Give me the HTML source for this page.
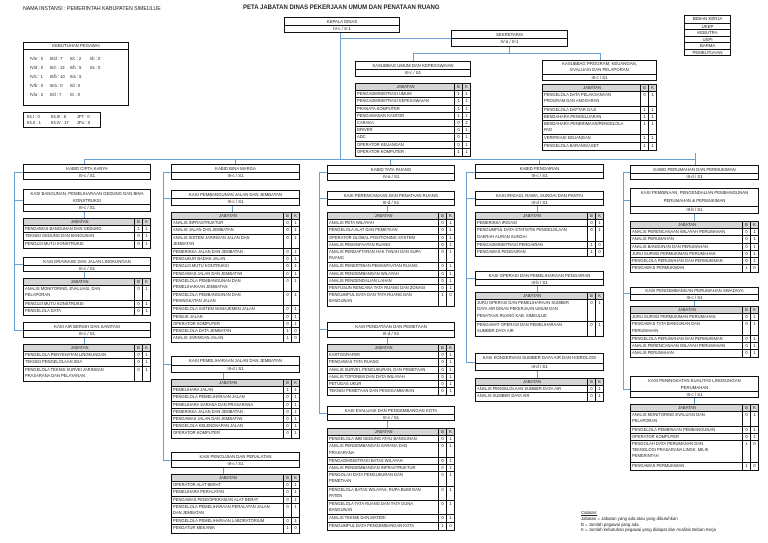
<!DOCTYPE html>
<html><head><meta charset="utf-8">
<style>
*{margin:0;padding:0;box-sizing:border-box}
body{width:768px;height:543px;background:#fff;position:relative;overflow:hidden;font-family:"Liberation Sans",sans-serif;color:#222}
.b{position:absolute;border:1.3px solid #111;background:#fff;font-size:4.3px;text-align:center;line-height:6px}
.b div{border-top:1px solid #111;height:7px;line-height:6px}
.b p{height:7px;line-height:7px;white-space:nowrap;overflow:hidden}
.t{position:absolute;border:1.3px solid #111;background:#fff;font-size:4.1px}
.r{display:flex;height:7.2px;border-bottom:1px solid #111;line-height:6.2px}
.r:last-child{border-bottom:0}
.r.d{height:14.4px}
.r.e{height:21.6px}
.r span{flex:1;padding-left:1px;white-space:nowrap;overflow:hidden}
.r i{font-style:normal;width:8px;border-left:1px solid #111;text-align:center}
.r.g{background:#d6d6d6}
.r.g span{text-align:center}
.h{position:absolute;height:1px;background:#6a9fd4}
.v{position:absolute;width:1px;background:#6a9fd4}
.s{position:absolute;font-size:4.5px;white-space:nowrap}
</style></head><body>
<div class="s" style="left:23px;top:6px;font-size:5.2px">NAMA INSTANSI : PEMERINTAH KABUPATEN SIMEULUE</div>
<div class="s" style="left:243px;top:5px;font-size:6px;font-weight:bold">PETA JABATAN DINAS PEKERJAAN UMUM DAN PENATAAN RUANG</div>

<div class="b" style="left:23px;top:42px;width:106px;height:64px">
<div style="border-top:0;border-bottom:1px solid #111">KEBUTUHAN PEGAWAI</div>
<table style="font-size:4.1px;margin:4px 0 0 6px;border-collapse:collapse;text-align:left">
<tr><td style="width:20px;height:9px">IV/e : 0</td><td style="width:20px">III/d : 7</td><td style="width:20px">II/c : 2</td><td>I/b : 0</td></tr>
<tr><td style="height:9px">IV/d : 0</td><td>III/c : 13</td><td>II/b : 5</td><td>I/a : 0</td></tr>
<tr><td style="height:9px">IV/c : 1</td><td>III/b : 10</td><td>II/a : 5</td><td></td></tr>
<tr><td style="height:9px">IV/b : 0</td><td>III/a : 0</td><td>I/d : 0</td><td></td></tr>
<tr><td style="height:9px">IV/a : 2</td><td>II/d : 7</td><td>I/c : 0</td><td></td></tr>
</table></div>
<div class="b" style="left:23px;top:112px;width:78px;height:16px;text-align:left;padding:1px 3px">
<table style="font-size:4.1px;border-collapse:collapse"><tr><td style="width:24px">Es.I : 0</td><td style="width:26px">Es.III : 6</td><td>JFT : 0</td></tr><tr><td>Es.II : 1</td><td>Es.IV : 17</td><td>JFU : 0</td></tr></table></div>

<div class="b" style="left:684px;top:15px;width:47px;height:41px">
<p style="height:6.5px;line-height:6.5px">BEBAN KERJA</p><div style="height:6.5px">UKEP</div><div style="height:6.5px">KEBUTRA</div><div style="height:6.5px">USPI</div><div style="height:6.5px">BARMA</div><div style="height:6.5px">PEMBUTUHAN</div></div>

<div class="v" style="left:340px;top:32px;height:128px"></div>
<div class="h" style="left:340px;top:38px;width:111px"></div>
<div class="v" style="left:509px;top:46px;height:7px"></div>
<div class="h" style="left:413px;top:53px;width:188px"></div>
<div class="v" style="left:413px;top:53px;height:8px"></div>
<div class="v" style="left:600px;top:53px;height:7px"></div>
<div class="h" style="left:84px;top:159px;width:612px"></div>
<div class="v" style="left:84px;top:159px;height:6px"></div>
<div class="v" style="left:235px;top:159px;height:6px"></div>
<div class="v" style="left:390px;top:159px;height:6px"></div>
<div class="v" style="left:539px;top:159px;height:6px"></div>
<div class="v" style="left:695px;top:153px;height:12px"></div>

<div class="b" style="left:284px;top:17px;width:116px;height:16px"><p>KEPALA DINAS</p><div>IV-c / S-1</div></div>
<div class="b" style="left:451px;top:30px;width:117px;height:17px"><p>SEKRETARIS</p><div>IV-a / S-1</div></div>

<div class="b" style="left:355px;top:61px;width:116px;height:16px"><p>KASUBBAG UMUM DAN KEPEGAWAIAN</p><div>III-c / S1</div></div>
<div class="t" style="left:355px;top:83px;width:116px">
<div class="r g"><span>JABATAN</span><i>B</i><i>K</i></div>
<div class="r"><span>PENGADMINISTRASI UMUM</span><i>1</i><i>1</i></div>
<div class="r"><span>PENGADMINISTRASI KEPEGAWAIAN</span><i>1</i><i>1</i></div>
<div class="r"><span>PRANATA KOMPUTER</span><i>1</i><i>1</i></div>
<div class="r"><span>PENGAMANAN KANTOR</span><i>1</i><i>1</i></div>
<div class="r"><span>CARAKA</span><i>0</i><i>2</i></div>
<div class="r"><span>DRIVER</span><i>0</i><i>1</i></div>
<div class="r"><span>ADC</span><i>0</i><i>1</i></div>
<div class="r"><span>OPERATOR KEUANGAN</span><i>0</i><i>1</i></div>
<div class="r"><span>OPERATOR KOMPUTER</span><i>1</i><i>1</i></div>
</div>

<div class="b" style="left:542px;top:60px;width:115px;height:21px"><p style="height:13px;line-height:6px;white-space:normal">KASUBBAG PROGRAM, KEUANGAN,<br>EVALUASI DAN PELAPORAN</p><div>III-c / S1</div></div>
<div class="t" style="left:542px;top:84px;width:115px">
<div class="r g"><span>JABATAN</span><i>B</i><i>K</i></div>
<div class="r d"><span>PENGELOLA DATA PELAKSANAAN<br>PROGRAM DAN ANGGARAN</span><i>0</i><i>1</i></div>
<div class="r"><span>PENGELOLA DAFTAR GAJI</span><i>1</i><i>1</i></div>
<div class="r"><span>BENDAHARA PENGELUARAN</span><i>1</i><i>1</i></div>
<div class="r d"><span>BENDAHARA PENERIMAAN/PENGELOLA<br>PAD</span><i>1</i><i>1</i></div>
<div class="r"><span>VERIFIKASI KEUANGAN</span><i>1</i><i>1</i></div>
<div class="r"><span>PENGELOLA BARANG/ASET</span><i>1</i><i>1</i></div>
</div>

<div class="v" style="left:14px;top:172px;height:159px"></div>
<div class="v" style="left:163px;top:172px;height:288px"></div>
<div class="v" style="left:319px;top:172px;height:241px"></div>
<div class="v" style="left:466px;top:172px;height:190px"></div>
<div class="v" style="left:623px;top:172px;height:217px"></div>
<div class="h" style="left:14px;top:172px;width:9px"></div>
<div class="h" style="left:14px;top:200px;width:9px"></div>
<div class="h" style="left:14px;top:264px;width:9px"></div>
<div class="h" style="left:14px;top:330px;width:9px"></div>
<div class="h" style="left:163px;top:172px;width:8px"></div>
<div class="h" style="left:163px;top:198px;width:8px"></div>
<div class="h" style="left:163px;top:364px;width:8px"></div>
<div class="h" style="left:163px;top:460px;width:8px"></div>
<div class="h" style="left:319px;top:172px;width:8px"></div>
<div class="h" style="left:319px;top:198px;width:8px"></div>
<div class="h" style="left:319px;top:329px;width:8px"></div>
<div class="h" style="left:319px;top:413px;width:8px"></div>
<div class="h" style="left:466px;top:172px;width:9px"></div>
<div class="h" style="left:466px;top:198px;width:9px"></div>
<div class="h" style="left:466px;top:278px;width:9px"></div>
<div class="h" style="left:466px;top:362px;width:9px"></div>
<div class="h" style="left:623px;top:172px;width:7px"></div>
<div class="h" style="left:623px;top:200px;width:7px"></div>
<div class="h" style="left:623px;top:293px;width:7px"></div>
<div class="h" style="left:623px;top:389px;width:7px"></div>

<!-- COL1 -->
<div class="b" style="left:23px;top:164px;width:128px;height:16px"><p>KABID CIPTA KARYA</p><div>III-c / S1</div></div>
<div class="b" style="left:23px;top:189px;width:128px;height:23px"><p style="height:14px;line-height:7px;white-space:normal">KASI BANGUNAN, PEMELIHARAAN GEDUNG DAN BINA<br>KONSTRUKSI</p><div>III-c / S1</div></div>
<div class="v" style="left:84px;top:212px;height:6px"></div>
<div class="t" style="left:23px;top:218px;width:128px">
<div class="r g"><span>JABATAN</span><i>B</i><i>K</i></div>
<div class="r"><span>PENGAWAS BANGUNAN DAN GEDUNG</span><i>1</i><i>1</i></div>
<div class="r"><span>TEKNISI GEDUNG DAN BANGUNAN</span><i>0</i><i>1</i></div>
<div class="r"><span>PENGUJI MUTU KONSTRUKSI</span><i>0</i><i>1</i></div>
</div>
<div class="b" style="left:23px;top:257px;width:128px;height:15px"><p>KASI DRAINASE DAN JALAN LINGKUNGAN</p><div>III-c / S1</div></div>
<div class="v" style="left:84px;top:272px;height:6px"></div>
<div class="t" style="left:23px;top:278px;width:128px">
<div class="r g"><span>JABATAN</span><i>B</i><i>K</i></div>
<div class="r d"><span>ANALIS MONITORING, EVALUASI, DAN<br>PELAPORAN</span><i>0</i><i>1</i></div>
<div class="r"><span>PENGUJI MUTU KONSTRUKSI</span><i>0</i><i>1</i></div>
<div class="r"><span>PENGELOLA DATA</span><i>0</i><i>1</i></div>
</div>
<div class="b" style="left:23px;top:322px;width:128px;height:16px"><p>KASI AIR BERSIH DAN SANITASI</p><div>III-c / S1</div></div>
<div class="v" style="left:84px;top:338px;height:6px"></div>
<div class="t" style="left:23px;top:344px;width:128px">
<div class="r g"><span>JABATAN</span><i>B</i><i>K</i></div>
<div class="r"><span>PENGELOLA PENYEHATAN LINGKUNGAN</span><i>0</i><i>1</i></div>
<div class="r"><span>TEKNISI PENGELOLAAN SDA</span><i>0</i><i>1</i></div>
<div class="r d"><span>PENGELOLA TEKNIS SURVEI JARINGAN<br>PRASARANA DAN PELAYANAN</span><i>0</i><i>1</i></div>
</div>

<!-- COL2 -->
<div class="b" style="left:171px;top:164px;width:129px;height:16px"><p>KABID BINA MARGA</p><div>III-c / S1</div></div>
<div class="b" style="left:171px;top:190px;width:129px;height:16px"><p>KASI PEMBANGUNAN JALAN DAN JEMBATAN</p><div>III-c / S1</div></div>
<div class="v" style="left:232px;top:206px;height:6px"></div>
<div class="t" style="left:171px;top:212px;width:129px">
<div class="r g"><span>JABATAN</span><i>B</i><i>K</i></div>
<div class="r"><span>ANALIS INFRASTRUKTUR</span><i>0</i><i>1</i></div>
<div class="r"><span>ANALIS JALAN DAN JEMBATAN</span><i>0</i><i>1</i></div>
<div class="r d"><span>ANALIS SISTEM JARINGAN JALAN DAN<br>JEMBATAN</span><i>0</i><i>1</i></div>
<div class="r"><span>PEMERIKSA JALAN DAN JEMBATAN</span><i>0</i><i>1</i></div>
<div class="r"><span>PENGUKUR BADAN JALAN</span><i>0</i><i>1</i></div>
<div class="r"><span>PENGUJI MUTU KONTRUKSI</span><i>0</i><i>1</i></div>
<div class="r"><span>PENGAWAS JALAN DAN JEMBATAN</span><i>0</i><i>1</i></div>
<div class="r d"><span>PENGELOLA PEMBANGUNAN DAN<br>PEMELIHARAAN JEMBATAN</span><i>0</i><i>1</i></div>
<div class="r d"><span>PENGELOLA PEMBANGUNAN DAN<br>PENINGKATAN JALAN</span><i>0</i><i>1</i></div>
<div class="r"><span>PENGELOLA SISTEM MANAJEMEN JALAN</span><i>0</i><i>1</i></div>
<div class="r"><span>PENILIK JALAN</span><i>0</i><i>1</i></div>
<div class="r"><span>OPERATOR KOMPUTER</span><i>0</i><i>1</i></div>
<div class="r"><span>PENGELOLA DATA JEMBATAN</span><i>1</i><i>0</i></div>
<div class="r"><span>ANALIS JARINGAN JALAN</span><i>1</i><i>0</i></div>
</div>
<div class="b" style="left:171px;top:356px;width:129px;height:17px"><p style="height:8px;line-height:8px">KASI PEMELIHARAAN JALAN DAN JEMBATAN</p><div>III-d / S1</div></div>
<div class="v" style="left:223px;top:373px;height:6px"></div>
<div class="t" style="left:171px;top:379px;width:129px">
<div class="r g"><span>JABATAN</span><i>B</i><i>K</i></div>
<div class="r"><span>PEMELIHARA JALAN</span><i>1</i><i>1</i></div>
<div class="r"><span>PENGELOLA PEMELIHARAAN JALAN</span><i>0</i><i>1</i></div>
<div class="r"><span>PEMELIHARA SARANA DAN PRASARANA</span><i>0</i><i>1</i></div>
<div class="r"><span>PEMERIKSA JALAN DAN JEMBATAN</span><i>0</i><i>1</i></div>
<div class="r"><span>PENGAWAS JALAN DAN JEMBATAN</span><i>0</i><i>1</i></div>
<div class="r"><span>PENGELOLA KELENGKAPAN JALAN</span><i>0</i><i>1</i></div>
<div class="r"><span>OPERATOR KOMPUTER</span><i>0</i><i>1</i></div>
</div>
<div class="b" style="left:171px;top:452px;width:129px;height:16px"><p>KASI PENGUJIAN DAN PERALATAN</p><div>III-c / S1</div></div>
<div class="v" style="left:223px;top:468px;height:6px"></div>
<div class="t" style="left:171px;top:474px;width:129px">
<div class="r g"><span>JABATAN</span><i>B</i><i>K</i></div>
<div class="r"><span>OPERATOR ALAT BERAT</span><i>0</i><i>1</i></div>
<div class="r"><span>PEMELIHARA PERALATAN</span><i>0</i><i>1</i></div>
<div class="r"><span>PENGAWAS PENGOPERASIAN ALAT BERAT</span><i>0</i><i>1</i></div>
<div class="r d"><span>PENGELOLA PEMELIHARAAN PERALATAN JALAN<br>DAN JEMBATAN</span><i>0</i><i>1</i></div>
<div class="r"><span>PENGELOLA PEMELIHARAAN LABORATORIUM</span><i>0</i><i>1</i></div>
<div class="r"><span>PENGATUR MEKANIK</span><i>1</i><i>0</i></div>
</div>

<!-- COL3 -->
<div class="b" style="left:327px;top:165px;width:128px;height:16px"><p>KABID TATA RUANG</p><div>IV-a / S1</div></div>
<div class="b" style="left:327px;top:191px;width:128px;height:15px"><p>KASI PERENCANAAN DAN PENATAAN RUANG</p><div>III-d / S1</div></div>
<div class="v" style="left:387px;top:206px;height:6px"></div>
<div class="t" style="left:327px;top:212px;width:128px">
<div class="r g"><span>JABATAN</span><i>B</i><i>K</i></div>
<div class="r"><span>ANALIS PETA WILAYAH</span><i>0</i><i>1</i></div>
<div class="r"><span>PENGELOLA ALAT DAN PEMETAAN</span><i>0</i><i>1</i></div>
<div class="r"><span>OPERATOR GLOBAL POSITIONING SYSTEM</span><i>0</i><i>1</i></div>
<div class="r"><span>ANALIS PEMANFAATAN RUANG</span><i>0</i><i>1</i></div>
<div class="r d"><span>ANALIS PENDAFTARAN HAK TANAH DAN SUPA<br>RUANG</span><i>0</i><i>1</i></div>
<div class="r"><span>ANALIS PENERTIBAN PEMANFAATAN RUANG</span><i>0</i><i>1</i></div>
<div class="r"><span>ANALIS PENGEMBANGAN WILAYAH</span><i>0</i><i>1</i></div>
<div class="r"><span>ANALIS PENGENDALIAN LAHAN</span><i>0</i><i>1</i></div>
<div class="r"><span>PENYUSUN RENCANA TATA RUANG DAN ZONASI</span><i>0</i><i>1</i></div>
<div class="r d"><span>PENGUMPUL DATA DAN TATA RUANG DAN<br>BANGUNAN</span><i>1</i><i>0</i></div>
</div>
<div class="b" style="left:327px;top:322px;width:128px;height:16px"><p>KASI PENDATAAN DAN PEMETAAN</p><div>III-d / S1</div></div>
<div class="v" style="left:387px;top:338px;height:6px"></div>
<div class="t" style="left:327px;top:344px;width:128px">
<div class="r g"><span>JABATAN</span><i>B</i><i>K</i></div>
<div class="r"><span>KARTOGRAFER</span><i>0</i><i>1</i></div>
<div class="r"><span>PENGAWAS TATA RUANG</span><i>0</i><i>1</i></div>
<div class="r"><span>ANALIS SURVEI, PENGUKURAN, DAN PEMETAAN</span><i>0</i><i>1</i></div>
<div class="r"><span>ANALIS TOPONIMI DAN DATA WILAYAH</span><i>0</i><i>1</i></div>
<div class="r"><span>PETUGAS UKUR</span><i>0</i><i>1</i></div>
<div class="r"><span>TEKNISI PEMETAAN DAN PENGGAMBARAN</span><i>0</i><i>1</i></div>
</div>
<div class="b" style="left:327px;top:406px;width:128px;height:15px"><p>KASI EVALUASI DAN PENGEMBANGAN KOTA</p><div>III-c / S1</div></div>
<div class="v" style="left:387px;top:421px;height:7px"></div>
<div class="t" style="left:327px;top:428px;width:128px">
<div class="r g"><span>JABATAN</span><i>B</i><i>K</i></div>
<div class="r"><span>PENGELOLA IMB GEDUNG ATAU BANGUNAN</span><i>0</i><i>1</i></div>
<div class="r d"><span>ANALIS PENGEMBANGAN SARANA DAN<br>PRASARANA</span><i>0</i><i>1</i></div>
<div class="r"><span>PENGADMINISTRASI BATAS WILAYAH</span><i>0</i><i>1</i></div>
<div class="r"><span>ANALIS PENGEMBANGAN INFRASTRUKTUR</span><i>0</i><i>1</i></div>
<div class="r d"><span>PENGOLAH DATA PENGUKURAN DAN<br>PEMETAAN</span><i>0</i><i>1</i></div>
<div class="r d"><span>PENGELOLA BATAS WILAYAH, RUPA BUMI DAN<br>PATEN</span><i>0</i><i>1</i></div>
<div class="r d"><span>PENGELOLA TATA RUANG DAN TATA GUNA<br>BANGUNAN</span><i>0</i><i>1</i></div>
<div class="r"><span>ANALIS TEKNIK DAN MATERI</span><i>0</i><i>1</i></div>
<div class="r"><span>PENGUMPUL DATA PENGEMBANGAN KOTA</span><i>1</i><i>0</i></div>
</div>

<!-- COL4 -->
<div class="b" style="left:475px;top:164px;width:129px;height:15px"><p>KABID PENGAIRAN</p><div>III-c / S1</div></div>
<div class="b" style="left:475px;top:191px;width:129px;height:15px"><p>KASI IRIGASI, RAWA, SUNGAI DAN PANTAI</p><div>III-d / S1</div></div>
<div class="v" style="left:537px;top:206px;height:6px"></div>
<div class="t" style="left:475px;top:212px;width:129px">
<div class="r g"><span>JABATAN</span><i>B</i><i>K</i></div>
<div class="r"><span>PEMERIKSA IRIGASI</span><i>0</i><i>1</i></div>
<div class="r d"><span>PENGUMPUL DATA STATISTIK PENGELOLAAN<br>DAERAH ALIRAN SUNGAI</span><i>0</i><i>1</i></div>
<div class="r"><span>PENGADMINISTRASI PENGAIRAN</span><i>1</i><i>0</i></div>
<div class="r"><span>PENGAWAS PENGAIRAN</span><i>1</i><i>0</i></div>
</div>
<div class="b" style="left:475px;top:271px;width:129px;height:15px"><p>KASI OPERASI DAN PEMELIHARAAN PENGAIRAN</p><div>III-b / S1</div></div>
<div class="v" style="left:537px;top:286px;height:6px"></div>
<div class="t" style="left:475px;top:292px;width:129px">
<div class="r g"><span>JABATAN</span><i>B</i><i>K</i></div>
<div class="r e"><span>JURU OPERASI DAN PEMELIHARAAN SUMBER<br>DAYA AIR DINAS PEKERJAAN UMUM DAN<br>PENATAAN RUANG KAB. SIMEULUE</span><i>0</i><i>1</i></div>
<div class="r d"><span>PENGAMAT OPERASI DAN PEMELIHARAAN<br>SUMBER DAYA AIR</span><i>0</i><i>1</i></div>
</div>
<div class="b" style="left:475px;top:353px;width:129px;height:18px"><p style="height:9px;line-height:8px">KASI KONSERVASI SUMBER DAYA AIR DAN HIDROLOGI</p><div>III-d / S1</div></div>
<div class="v" style="left:537px;top:371px;height:7px"></div>
<div class="t" style="left:475px;top:378px;width:129px">
<div class="r g"><span>JABATAN</span><i>B</i><i>K</i></div>
<div class="r"><span>ANALIS PENGELOLAAN SUMBER DAYA AIR</span><i>0</i><i>1</i></div>
<div class="r"><span>ANALIS SUMBER DAYA AIR</span><i>0</i><i>1</i></div>
</div>

<!-- COL5 -->
<div class="b" style="left:630px;top:165px;width:129px;height:15px"><p>KABID PERUMAHAN DAN PERMUKIMAN</p><div>III-d / S1</div></div>
<div class="b" style="left:630px;top:188px;width:129px;height:26px"><p style="height:17px;line-height:8px;white-space:normal">KASI PEMBINAAN, PENGENDALIAN PEMBANGUNAN<br>PERUMAHAN &amp; PERMUKIMAN</p><div style="height:7px">III-b / S1</div></div>
<div class="v" style="left:694px;top:214px;height:7px"></div>
<div class="t" style="left:630px;top:221px;width:129px">
<div class="r g"><span>JABATAN</span><i>B</i><i>K</i></div>
<div class="r"><span>ANALIS PERENCANAAN WILAYAH PERUMAHAN</span><i>0</i><i>1</i></div>
<div class="r"><span>ANALIS PERUMAHAN</span><i>0</i><i>1</i></div>
<div class="r"><span>ANALIS BANGUNAN DAN PERUMAHAN</span><i>0</i><i>1</i></div>
<div class="r"><span>JURU SURVEI PERMUKIMAN PERUMAHAN</span><i>0</i><i>1</i></div>
<div class="r"><span>PENGELOLA PERUMAHAN DAN PERMUKIMAN</span><i>0</i><i>1</i></div>
<div class="r"><span>PENGAWAS PERMUKIMAN</span><i>1</i><i>0</i></div>
</div>
<div class="b" style="left:630px;top:287px;width:129px;height:14px"><p style="height:6px;line-height:6px">KASI PENGEMBANGAN PERUMAHAN SWADAYA</p><div style="height:6px">III-c / S1</div></div>
<div class="v" style="left:694px;top:301px;height:5px"></div>
<div class="t" style="left:630px;top:306px;width:129px">
<div class="r g"><span>JABATAN</span><i>B</i><i>K</i></div>
<div class="r"><span>JURU SURVEI PERMUKIMAN PERUMAHAN</span><i>0</i><i>1</i></div>
<div class="r d"><span>PENGAWAS TATA BANGUNAN DAN<br>PERUMAHAN</span><i>0</i><i>1</i></div>
<div class="r"><span>PENGELOLA PERUMAHAN DAN PERMUKIMAN</span><i>0</i><i>1</i></div>
<div class="r"><span>ANALIS PERENCANAAN WILAYAH PERUMAHAN</span><i>0</i><i>1</i></div>
<div class="r"><span>ANALIS PERUMAHAN</span><i>0</i><i>1</i></div>
</div>
<div class="b" style="left:630px;top:376px;width:129px;height:22px"><p style="height:14px;line-height:7px;white-space:normal">KASI PENINGKATAN KUALITAS LINGKUNGAN<br>PERUMAHAN</p><div style="height:6px">III-c / S1</div></div>
<div class="v" style="left:694px;top:398px;height:6px"></div>
<div class="t" style="left:630px;top:404px;width:129px">
<div class="r g"><span>JABATAN</span><i>B</i><i>K</i></div>
<div class="r d"><span>ANALIS MONITORING EVALUASI DAN<br>PELAPORAN</span><i>0</i><i>1</i></div>
<div class="r"><span>PENGELOLA PEMBINAAN PEMBANGUNAN</span><i>0</i><i>1</i></div>
<div class="r"><span>OPERATOR KOMPUTER</span><i>0</i><i>1</i></div>
<div class="r e"><span>PENGOLAH DATA PERUMAHAN DAN<br>TEKNOLOGI PRASARANA LINGK. MILIK<br>PEMERINTAH</span><i>1</i><i>0</i></div>
<div class="r"><span>PENGAWAS PERMUKIMAN</span><i>1</i><i>0</i></div>
</div>

<div class="s" style="left:581px;top:510px;font-size:4.3px;line-height:5.8px">
<u>Catatan:</u><br>Jabatan = Jabatan yang ada atau yang dibutuhkan<br>B = Jumlah pegawai yang ada<br>K = Jumlah kebutuhan pegawai yang didapat dari Analisis Beban Kerja</div>
</body></html>
